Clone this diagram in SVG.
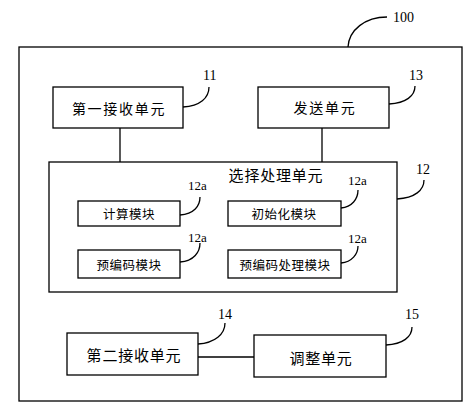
<svg xmlns="http://www.w3.org/2000/svg" width="474" height="413" viewBox="0 0 474 413">
<style>
.box{fill:#fff;stroke:#000;stroke-width:1.3}
.ln{fill:none;stroke:#000;stroke-width:1.3}
.t{font-family:"Noto Sans CJK SC","Noto Sans CJK JP",sans-serif;fill:#000;text-anchor:middle;dominant-baseline:central}
.big{font-size:14px;letter-spacing:1.7px}
.mid{font-size:15px;letter-spacing:0.8px}
.sm{font-size:12.5px;letter-spacing:0.5px}
.n{font-family:"Liberation Serif",serif;font-size:14px;fill:#000}
.na{font-family:"Liberation Serif",serif;font-size:13px;fill:#000}
</style>
<rect width="474" height="413" fill="#fff"/>
<g id="n100">
<rect class="box" x="19" y="47" width="443" height="354"/>
<path class="ln" d="M348,47 C349,30 365,17 387,17"/>
<text class="n" x="393" y="22">100</text>
</g>
<g id="connectors">
<line class="ln" x1="120" y1="128" x2="120" y2="162"/>
<line class="ln" x1="322" y1="128" x2="322" y2="162"/>
<line class="ln" x1="123" y1="226" x2="123" y2="250"/>
<line class="ln" x1="284" y1="226" x2="284" y2="250"/>
<line class="ln" x1="198" y1="357" x2="254" y2="357"/>
</g>
<g id="n11">
<rect class="box" x="53" y="87" width="130" height="41"/>
<text class="t big" x="119" y="108">第一接收单元</text>
<path class="ln" d="M183,107 C200,106 209,98 209,87"/>
<text class="n" x="203" y="80">11</text>
</g>
<g id="n13">
<rect class="box" x="258" y="87" width="131" height="41"/>
<text class="t big" x="325" y="107">发送单元</text>
<path class="ln" d="M389,104 C406,103 415,96 415,86"/>
<text class="n" x="409" y="80">13</text>
</g>
<g id="n12">
<rect class="box" x="49" y="162" width="348" height="130"/>
<text class="t mid" x="276" y="174">选择处理单元</text>
<path class="ln" d="M397,199 C415,198 424,190 424,180"/>
<text class="n" x="416" y="174">12</text>
</g>
<g id="n12a1">
<rect class="box" x="78" y="201" width="102" height="25"/>
<text class="t sm" x="129" y="213">计算模块</text>
<path class="ln" d="M180,215 C194,214 200,206 200,197"/>
<text class="na" x="188" y="190">12a</text>
</g>
<g id="n12a2">
<rect class="box" x="228" y="201" width="113" height="25"/>
<text class="t sm" x="284" y="213">初始化模块</text>
<path class="ln" d="M341,208 C352,207 358,199 358,190"/>
<text class="na" x="348" y="185">12a</text>
</g>
<g id="n12a3">
<rect class="box" x="78" y="250" width="102" height="28"/>
<text class="t sm" x="129" y="264">预编码模块</text>
<path class="ln" d="M180,262 C194,261 200,252 200,243"/>
<text class="na" x="188" y="242">12a</text>
</g>
<g id="n12a4">
<rect class="box" x="228" y="250" width="113" height="28"/>
<text class="t sm" x="285" y="264">预编码处理模块</text>
<path class="ln" d="M341,263 C352,262 358,254 358,246"/>
<text class="na" x="348" y="243">12a</text>
</g>
<g id="n14">
<rect class="box" x="67" y="333" width="131" height="42"/>
<text class="t mid" x="134" y="354">第二接收单元</text>
<path class="ln" d="M198,344 C215,343 225,334 225,323"/>
<text class="n" x="218" y="319">14</text>
</g>
<g id="n15">
<rect class="box" x="254" y="335" width="132" height="42"/>
<text class="t mid" x="321" y="357">调整单元</text>
<path class="ln" d="M386,345 C403,344 412,337 412,327"/>
<text class="n" x="405" y="319">15</text>
</g>
</svg>
